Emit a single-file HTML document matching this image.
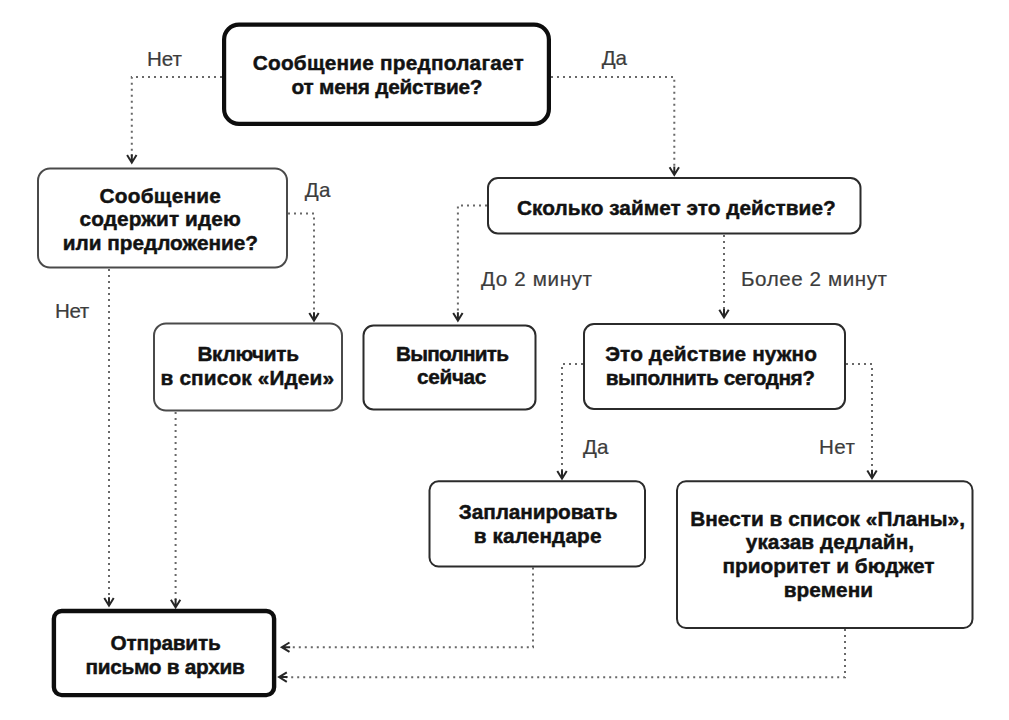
<!DOCTYPE html>
<html><head><meta charset="utf-8"><style>
html,body{margin:0;padding:0;background:#fff;width:1009px;height:720px;overflow:hidden}
svg{position:absolute;left:0;top:0}
.b{font-family:"Liberation Sans",sans-serif;font-weight:bold;font-size:20.8px;fill:#121212;stroke:#121212;stroke-width:0.45px;paint-order:stroke}
.r{font-family:"Liberation Sans",sans-serif;font-size:20.6px;fill:#3c3c3c;stroke:#3c3c3c;stroke-width:0.2px}
.d{fill:none;stroke:#686868;stroke-width:2;stroke-dasharray:2 4}
.a{fill:none;stroke:#262626;stroke-width:2}
</style></head><body>
<svg width="1009" height="720" viewBox="0 0 1009 720">
<path class="d" d="M222.0 77.0 L131.8 77.0 L131.8 156.0"/>
<path class="a" d="M127.10 155.00 L131.80 162.70 L136.50 155.00 M131.80 154.30 L131.80 162.30"/>
<path class="d" d="M551.0 77.0 L674.3 77.0 L674.3 168.0"/>
<path class="a" d="M669.60 167.20 L674.30 174.90 L679.00 167.20 M674.30 166.50 L674.30 174.50"/>
<path class="d" d="M288.0 213.5 L314.0 213.5 L314.0 313.0"/>
<path class="a" d="M309.30 312.90 L314.00 320.60 L318.70 312.90 M314.00 312.20 L314.00 320.20"/>
<path class="d" d="M109.0 269.0 L109.0 599.0"/>
<path class="a" d="M104.30 598.00 L109.00 605.70 L113.70 598.00 M109.00 597.30 L109.00 605.30"/>
<path class="d" d="M175.6 412.0 L175.6 600.0"/>
<path class="a" d="M170.90 599.70 L175.60 607.40 L180.30 599.70 M175.60 599.00 L175.60 607.00"/>
<path class="d" d="M487.0 205.5 L457.9 205.5 L457.9 313.0"/>
<path class="a" d="M453.20 312.90 L457.90 320.60 L462.60 312.90 M457.90 312.20 L457.90 320.20"/>
<path class="d" d="M724.0 235.0 L724.0 310.0"/>
<path class="a" d="M719.30 309.70 L724.00 317.40 L728.70 309.70 M724.00 309.00 L724.00 317.00"/>
<path class="d" d="M583.0 364.0 L562.0 364.0 L562.0 471.0"/>
<path class="a" d="M557.30 471.00 L562.00 478.70 L566.70 471.00 M562.00 470.30 L562.00 478.30"/>
<path class="d" d="M846.0 364.0 L872.0 364.0 L872.0 471.0"/>
<path class="a" d="M867.30 470.50 L872.00 478.20 L876.70 470.50 M872.00 469.80 L872.00 477.80"/>
<path class="d" d="M533.0 567.5 L533.0 647.3 L289.0 647.3"/>
<path class="a" d="M289.50 642.50 L281.80 647.20 L289.50 651.90 M290.20 647.20 L282.20 647.20"/>
<path class="d" d="M845.0 629.0 L845.0 677.2 L286.0 677.2"/>
<path class="a" d="M286.80 672.40 L279.10 677.10 L286.80 681.80 M287.50 677.10 L279.50 677.10"/>
<rect x="224.10" y="24.60" width="324.80" height="99.30" rx="14.90" fill="#fff" stroke="#0d0d0d" stroke-width="4.20"/>
<rect x="38.00" y="168.50" width="249.00" height="99.00" rx="12.00" fill="#fff" stroke="#4a4a4a" stroke-width="2.00"/>
<rect x="488.00" y="178.00" width="372.50" height="55.50" rx="10.00" fill="#fff" stroke="#2b2b2b" stroke-width="2.00"/>
<rect x="154.00" y="323.50" width="188.00" height="87.00" rx="12.00" fill="#fff" stroke="#4a4a4a" stroke-width="2.00"/>
<rect x="363.50" y="325.50" width="172.00" height="84.00" rx="10.00" fill="#fff" stroke="#2b2b2b" stroke-width="2.00"/>
<rect x="584.00" y="324.00" width="261.00" height="85.00" rx="10.00" fill="#fff" stroke="#2b2b2b" stroke-width="2.00"/>
<rect x="429.50" y="481.30" width="215.50" height="85.20" rx="9.00" fill="#fff" stroke="#2b2b2b" stroke-width="2.00"/>
<rect x="677.00" y="481.20" width="295.50" height="146.80" rx="9.00" fill="#fff" stroke="#2b2b2b" stroke-width="2.00"/>
<rect x="53.90" y="611.00" width="220.20" height="84.10" rx="7.80" fill="#fff" stroke="#0d0d0d" stroke-width="4.40"/>
<text class="b" x="252.70" y="70.40" textLength="271.09" lengthAdjust="spacing">Сообщение предполагает</text>
<text class="b" x="291.60" y="94.20" textLength="190.90" lengthAdjust="spacing">от меня действие?</text>
<text class="b" x="99.50" y="202.60" textLength="121.41" lengthAdjust="spacing">Сообщение</text>
<text class="b" x="79.60" y="226.30" textLength="161.11" lengthAdjust="spacing">содержит идею</text>
<text class="b" x="62.80" y="250.10" textLength="195.20" lengthAdjust="spacing">или предложение?</text>
<text class="b" x="517.00" y="215.40" textLength="318.70" lengthAdjust="spacing">Сколько займет это действие?</text>
<text class="b" x="197.40" y="360.50" textLength="101.60" lengthAdjust="spacing">Включить</text>
<text class="b" x="160.60" y="384.60" textLength="173.39" lengthAdjust="spacing">в список «Идеи»</text>
<text class="b" x="395.90" y="360.70" textLength="113.09" lengthAdjust="spacing">Выполнить</text>
<text class="b" x="417.00" y="384.40" textLength="69.40" lengthAdjust="spacing">сейчас</text>
<text class="b" x="605.20" y="360.60" textLength="211.80" lengthAdjust="spacing">Это действие нужно</text>
<text class="b" x="605.70" y="385.00" textLength="209.31" lengthAdjust="spacing">выполнить сегодня?</text>
<text class="b" x="458.80" y="519.00" textLength="158.69" lengthAdjust="spacing">Запланировать</text>
<text class="b" x="473.70" y="543.00" textLength="127.81" lengthAdjust="spacing">в календаре</text>
<text class="b" x="690.20" y="525.50" textLength="274.79" lengthAdjust="spacing">Внести в список «Планы»,</text>
<text class="b" x="745.80" y="549.30" textLength="168.21" lengthAdjust="spacing">указав дедлайн,</text>
<text class="b" x="722.40" y="573.10" textLength="211.99" lengthAdjust="spacing">приоритет и бюджет</text>
<text class="b" x="783.80" y="596.90" textLength="89.20" lengthAdjust="spacing">времени</text>
<text class="b" x="110.60" y="649.70" textLength="110.09" lengthAdjust="spacing">Отправить</text>
<text class="b" x="85.50" y="673.50" textLength="159.20" lengthAdjust="spacing">письмо в архив</text>
<text class="r" x="147.00" y="65.60" textLength="35.00" lengthAdjust="spacing">Нет</text>
<text class="r" x="601.80" y="65.00" textLength="25.19" lengthAdjust="spacing">Да</text>
<text class="r" x="304.80" y="196.70" textLength="25.59" lengthAdjust="spacing">Да</text>
<text class="r" x="55.00" y="318.40" textLength="34.20" lengthAdjust="spacing">Нет</text>
<text class="r" x="481.00" y="285.90" textLength="111.00" lengthAdjust="spacing">До 2 минут</text>
<text class="r" x="741.00" y="286.00" textLength="146.01" lengthAdjust="spacing">Более 2 минут</text>
<text class="r" x="582.90" y="454.00" textLength="25.69" lengthAdjust="spacing">Да</text>
<text class="r" x="819.00" y="454.00" textLength="36.00" lengthAdjust="spacing">Нет</text>
</svg>
</body></html>
